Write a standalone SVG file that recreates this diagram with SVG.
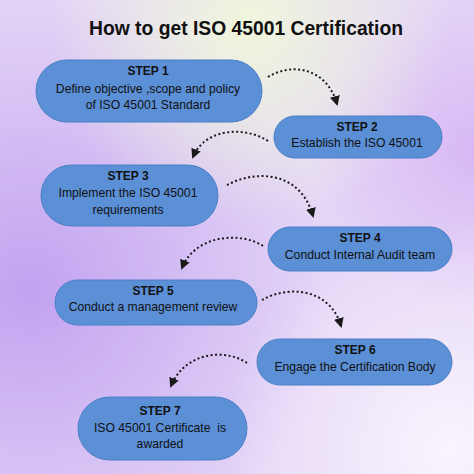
<svg xmlns="http://www.w3.org/2000/svg" width="474" height="474" viewBox="0 0 474 474">
<defs>
<radialGradient id="gPurple" cx="30" cy="290" r="300" gradientUnits="userSpaceOnUse">
<stop offset="0" stop-color="#c2a2f0"/>
<stop offset="1" stop-color="#c2a2f0" stop-opacity="0"/>
</radialGradient>
<radialGradient id="gYellow" cx="250" cy="25" r="200" gradientUnits="userSpaceOnUse">
<stop offset="0" stop-color="#f0f6dc"/>
<stop offset="1" stop-color="#f0f6dc" stop-opacity="0"/>
</radialGradient>
<radialGradient id="gLight" cx="450" cy="450" r="230" gradientUnits="userSpaceOnUse">
<stop offset="0" stop-color="#faf4fd"/>
<stop offset="1" stop-color="#faf4fd" stop-opacity="0"/>
</radialGradient>
<radialGradient id="gRight" cx="474" cy="150" r="160" gradientUnits="userSpaceOnUse">
<stop offset="0" stop-color="#d8b8f4"/>
<stop offset="1" stop-color="#d8b8f4" stop-opacity="0"/>
</radialGradient>
<marker id="ah" viewBox="0 0 10 10" refX="8" refY="5" markerWidth="10" markerHeight="10" markerUnits="userSpaceOnUse" orient="auto">
<path d="M0,0 L10,5 L0,10 Z" fill="#1a1a1a"/>
</marker>
</defs>
<style>
.pill{fill:#5b8fd6;stroke:#4d7fc6;stroke-width:1}
.t{font-family:"Liberation Sans",Arial,sans-serif;fill:#111;text-anchor:middle}
.h{font-weight:bold;font-size:12px}
.b{font-size:12.2px}
.conn path{fill:none;stroke:#1a1a1a;stroke-width:2;stroke-dasharray:2 2.5;marker-end:url(#ah)}
</style>
<rect width="474" height="474" fill="#e4d6f7"/>
<rect width="474" height="474" fill="url(#gPurple)"/>
<rect width="474" height="474" fill="url(#gRight)"/>
<rect width="474" height="474" fill="url(#gYellow)"/>
<rect width="474" height="474" fill="url(#gLight)"/>
<text class="t" x="246" y="35" font-size="19.3" font-weight="bold">How to get ISO 45001 Certification</text>
<g class="conn">
<path d="M268,77 C292,62 327,68 337,104"/>
<path d="M268,141 C245,126 205,128 193,157"/>
<path d="M227,185 C255,170 300,170 313,216"/>
<path d="M263,246 C240,231 195,235 182,268"/>
<path d="M262,300 C288,285 330,288 341,326"/>
<path d="M247,363 C225,348 185,352 171,386"/>
</g>
<g id="step1">
<rect class="pill" x="36" y="60" width="226" height="62" rx="31"/>
<text class="t h" x="148" y="75">STEP 1</text>
<text class="t b" x="148" y="93">Define objective ,scope and policy</text>
<text class="t b" x="148" y="109">of ISO 45001 Standard</text>
</g>
<g id="step2">
<rect class="pill" x="274" y="116" width="168" height="42" rx="21"/>
<text class="t h" x="357" y="131">STEP 2</text>
<text class="t b" x="357" y="147">Establish the ISO 45001</text>
</g>
<g id="step3">
<rect class="pill" x="41" y="165" width="177" height="61" rx="30.5"/>
<text class="t h" x="128" y="180">STEP 3</text>
<text class="t b" x="128" y="197">Implement the ISO 45001</text>
<text class="t b" x="128" y="214">requirements</text>
</g>
<g id="step4">
<rect class="pill" x="268" y="227" width="184" height="44" rx="22"/>
<text class="t h" x="360" y="242">STEP 4</text>
<text class="t b" x="360" y="259">Conduct Internal Audit team</text>
</g>
<g id="step5">
<rect class="pill" x="55" y="280" width="202" height="45" rx="22.5"/>
<text class="t h" x="153" y="295">STEP 5</text>
<text class="t b" x="153" y="311">Conduct a management review</text>
</g>
<g id="step6">
<rect class="pill" x="257" y="339" width="195" height="46" rx="23"/>
<text class="t h" x="355" y="354">STEP 6</text>
<text class="t b" x="355" y="371">Engage the Certification Body</text>
</g>
<g id="step7">
<rect class="pill" x="78" y="397" width="169" height="63" rx="31.5"/>
<text class="t h" x="160" y="415">STEP 7</text>
<text class="t b" x="160" y="432" xml:space="preserve">ISO 45001 Certificate  is</text>
<text class="t b" x="160" y="448">awarded</text>
</g>
</svg>
